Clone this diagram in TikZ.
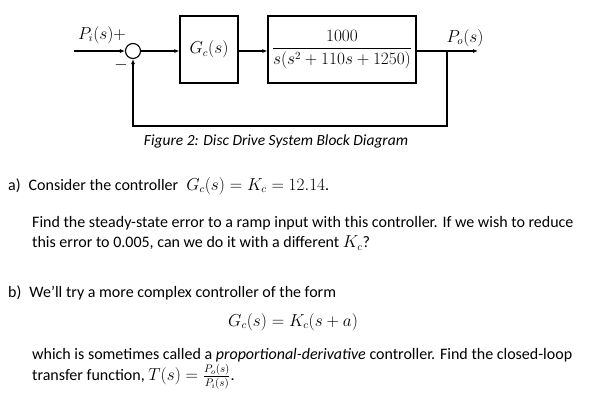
\documentclass[tikz,border=0pt]{standalone}
\usepackage{amsmath}
\usepackage{fontspec}
\setmainfont{Carlito}
\usetikzlibrary{arrows.meta}
\begin{document}
\begin{tikzpicture}[x=1pt,y=-1pt,
  every node/.style={font=\fontsize{16}{19}\selectfont},
  blk/.style={draw,line width=1.2pt,inner sep=0pt},
  sig/.style={line width=1.1pt,-{Latex[length=5pt,width=4pt]}},
  ln/.style={line width=1.1pt},
  txt/.style={anchor=west,inner sep=0pt}]
\useasboundingbox (0,0) rectangle (602,405);
\coordinate (in) at (74,51);
\node[draw,circle,line width=1.1pt,minimum size=15pt,inner sep=0pt] (sum) at (133,51) {};
\node[blk,minimum width=58pt,minimum height=67pt] (gc) at (209,49.5) {$G_c(s)$};
\node[blk,minimum width=148pt,minimum height=67pt] (pl) at (342,49.5) {$\dfrac{1000}{s(s^2+110s+1250)}$};
\coordinate (out) at (478,51);
\coordinate (br) at (447,51);
\coordinate (b1) at (447,126);
\coordinate (b2) at (133,126);
\draw[sig] (in) -- (sum.west);
\draw[sig] (sum.east) -- (gc.west |- sum);
\draw[sig] (gc.east |- sum) -- (pl.west |- sum);
\draw[sig] (pl.east |- sum) -- (out);
\draw[sig] (br) -- (b1) -- (b2) -- (sum.south);
\node[inner sep=0pt] (pi) at (102,35) {$P_i(s)+$};
\node[inner sep=0pt] (mn) at (121,65) {$-$};
\node[inner sep=0pt] (po) at (465,38) {$P_o(s)$};
\node[inner sep=0pt,font=\fontsize{15.5}{18}\selectfont\itshape] (cap) at (276,141) {Figure 2: Disc Drive System Block Diagram};
\node[txt] (a) at (8,186) {a)\enspace Consider the controller\enspace $G_c(s)=K_c=12.14$.};
\node[txt] (a1) at (32,223) {Find the steady-state error to a ramp input with this controller. If we wish to reduce};
\node[txt] (a2) at (32,243) {this error to 0.005, can we do it with a different $K_c$?};
\node[txt] (b) at (8,293) {b)\enspace We’ll try a more complex controller of the form};
\node[txt] (b1t) at (228,322) {$G_c(s)=K_c(s+a)$};
\node[txt] (b2t) at (32,355) {which is sometimes called a \emph{proportional-derivative} controller. Find the closed-loop};
\node[txt] (b3t) at (32,377) {transfer function, $T(s)=\frac{P_o(s)}{P_i(s)}$.};
\end{tikzpicture}
\end{document}
